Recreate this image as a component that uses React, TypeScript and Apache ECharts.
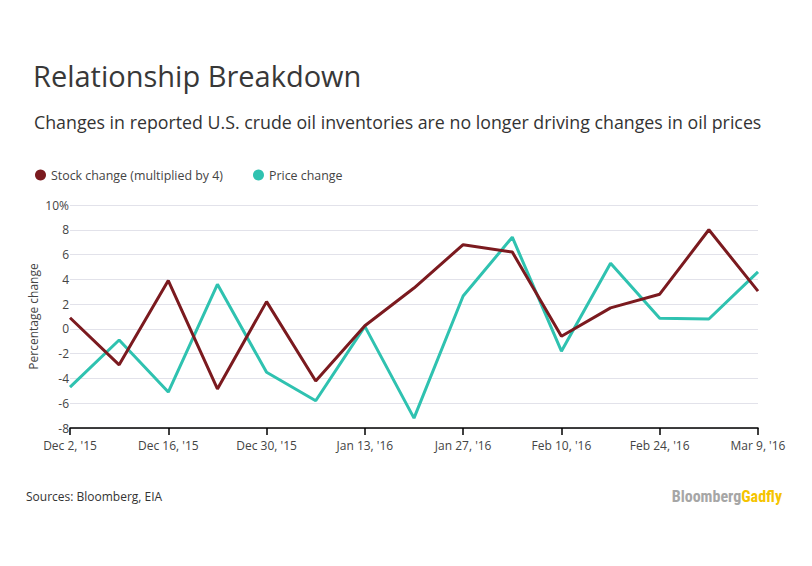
import React, { useEffect, useRef } from "react";
import * as echarts from "echarts";

const dates = [
  "Dec 2, '15", "Dec 9, '15", "Dec 16, '15", "Dec 23, '15", "Dec 30, '15",
  "Jan 6, '16", "Jan 13, '16", "Jan 20, '16", "Jan 27, '16", "Feb 3, '16",
  "Feb 10, '16", "Feb 17, '16", "Feb 24, '16", "Mar 2, '16", "Mar 9, '16",
];
const stockChange = [0.9, -2.9, 3.9, -4.85, 2.2, -4.2, 0.25, 3.3, 6.8, 6.2, -0.6, 1.7, 2.8, 8.0, 3.05];
const priceChange = [-4.7, -0.9, -5.1, 3.6, -3.5, -5.8, 0.2, -7.2, 2.65, 7.4, -1.8, 5.3, 0.85, 0.8, 4.6];

const FONT = "'Open Sans', Roboto, sans-serif";

export default function App() {
  const ref = useRef<HTMLDivElement>(null);
  useEffect(() => {
    if (!ref.current) return;
    const chart = echarts.init(ref.current, null, { renderer: "svg" });
    chart.setOption({
      animation: false,
      backgroundColor: "#ffffff",
      textStyle: { fontFamily: FONT },
      title: [
        {
          text: "Relationship Breakdown",
          left: 28,
          top: 56,
          textStyle: { fontSize: 29, fontWeight: 400, color: "#383838", fontFamily: FONT },
        },
        {
          text: "Changes in reported U.S. crude oil inventories are no longer driving changes in oil prices",
          left: 29,
          top: 108,
          textStyle: { fontSize: 17.8, fontWeight: 400, color: "#333333", fontFamily: FONT },
        },
      ],
      legend: {
        left: 30,
        top: 164,
        icon: "circle",
        itemWidth: 11,
        itemHeight: 11,
        itemGap: 30,
        textStyle: { fontSize: 12.4, color: "#444444", fontFamily: FONT },
        data: ["Stock change (multiplied by 4)", "Price change"],
      },
      grid: { left: 70, right: 54, top: 205, bottom: 138 },
      xAxis: {
        type: "category",
        data: dates,
        boundaryGap: false,
        axisLine: { onZero: false, lineStyle: { color: "#000000", width: 1.5 } },
        axisTick: { show: true, interval: 1, length: 7, lineStyle: { color: "#000000", width: 1.5 } },
        axisLabel: { interval: 1, fontSize: 12, color: "#444444", margin: 11, fontFamily: FONT },
        splitLine: { show: false },
      },
      yAxis: {
        type: "value",
        min: -8,
        max: 10,
        interval: 2,
        name: "Percentage change",
        nameLocation: "middle",
        nameGap: 31,
        nameMoveOverlap: false,
        nameTextStyle: { fontSize: 12, color: "#444444", fontFamily: FONT },
        axisLine: { show: false },
        axisTick: { show: false },
        axisLabel: {
          fontSize: 12,
          color: "#444444",
          margin: 1,
          fontFamily: FONT,
          formatter: (v: number) => (v === 10 ? "10%" : String(v)),
        },
        splitLine: { lineStyle: { color: "#e2e2ea", width: 1 } },
      },
      series: [
        {
          name: "Stock change (multiplied by 4)",
          type: "line",
          data: stockChange,
          symbol: "none",
          color: "#7b1a1f",
          lineStyle: { width: 3, color: "#7b1a1f" },
          z: 3,
        },
        {
          name: "Price change",
          type: "line",
          data: priceChange,
          symbol: "none",
          color: "#2fc2b0",
          lineStyle: { width: 3, color: "#2fc2b0" },
          z: 2,
        },
      ],
      graphic: [
        {
          type: "text",
          left: 26,
          top: 490,
          style: { text: "Sources: Bloomberg, EIA", fontSize: 12, fill: "#333333", fontFamily: FONT },
        },
        {
          type: "text",
          right: 30,
          top: 488,
          style: {
            text: "{a|Bloomberg}{b|Gadfly}",
            rich: {
              a: { fontSize: 16, fontWeight: "bold", fill: "#a6a6a6", fontFamily: "'Roboto Condensed', 'Liberation Sans Narrow', Roboto, sans-serif" },
              b: { fontSize: 16, fontWeight: "bold", fill: "#f5c400", fontFamily: "'Roboto Condensed', 'Liberation Sans Narrow', Roboto, sans-serif" },
            },
          },
        },
      ],
    });
    return () => chart.dispose();
  }, []);
  return <div ref={ref} style={{ width: 812, height: 566, position: "absolute", left: 0, top: 0 }} />;
}
